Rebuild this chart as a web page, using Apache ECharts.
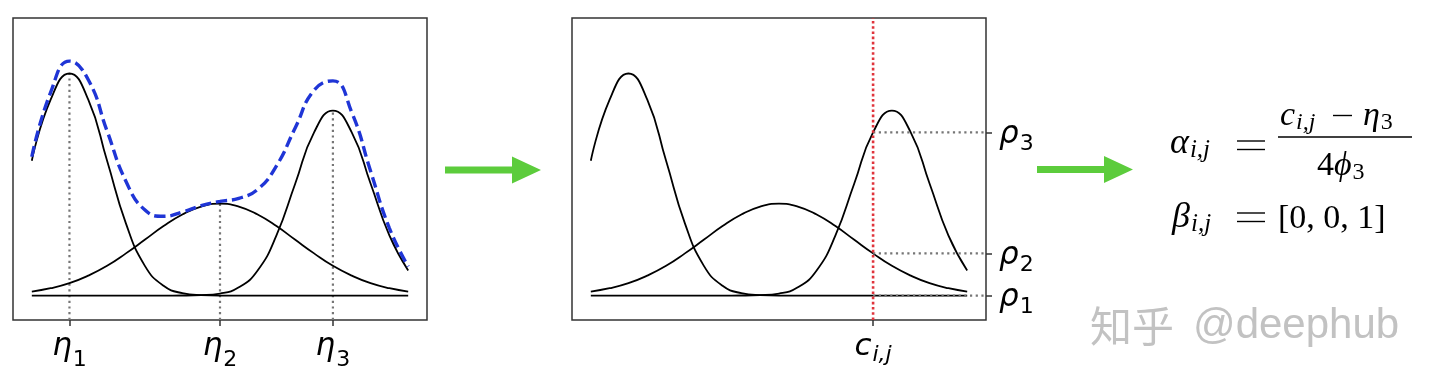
<!DOCTYPE html>
<html><head><meta charset="utf-8">
<script src="https://cdn.jsdelivr.net/npm/echarts@6/dist/echarts.min.js"></script>
<style>html,body{margin:0;padding:0;background:#fff}#c{width:1440px;height:391px}</style>
</head><body><div id="c"></div>
<script>
// ---- data ----
const xSamples = [0,0.5,1,1.5,2,2.5,3,3.5,4,4.5,5,5.5,6,6.5,7,7.5,8,8.5,9,9.5,10];
const curve1 = [0.607,0.882,1.000,0.882,0.607,0.325,0.135,0.044,0.011,0.002,0,0,0,0,0,0,0,0,0,0,0];
const curve2 = [0.018,0.033,0.056,0.090,0.134,0.190,0.251,0.313,0.365,0.401,0.414,0.401,0.365,0.313,0.251,0.190,0.134,0.090,0.056,0.033,0.018];
const curve3 = [0,0,0,0,0,0,0,0,0.0003,0.002,0.009,0.037,0.113,0.271,0.505,0.735,0.833,0.735,0.505,0.271,0.113];
const mixture = [0.625,0.915,1.056,0.972,0.741,0.515,0.386,0.357,0.376,0.405,0.424,0.438,0.478,0.584,0.756,0.925,0.967,0.825,0.561,0.304,0.131];
const etaPositions = [1, 5, 8];
const etaPeaks = [1.0, 0.414, 0.833];
const etaSubs = ['1', '2', '3'];
const cPositions = [7.5];
const rhoValues = [0, 0.19, 0.735];
const rhoSubs = ['1', '2', '3'];
const xRange = [-0.5, 10.5];
const yRange = [-0.11, 1.25];

// ---- styling ----
const BLACK = '#000';
const BLUE = '#1f35d6';
const GRAY = '#767676';
const RED = '#e0343c';
const GREEN = '#5ccc3c';

const rich = {
  m: {fontFamily:'DejaVu Sans', fontStyle:'italic', fontSize:31, color:'#000', verticalAlign:'top'},
  s: {fontFamily:'DejaVu Sans', fontSize:22, color:'#000', verticalAlign:'top', padding:[18,0,0,1]},
  r: {fontFamily:'DejaVu Sans', fontSize:22, color:'#000', verticalAlign:'top', padding:[14,0,0,1]},
  si: {fontFamily:'DejaVu Sans', fontStyle:'italic', fontSize:22, color:'#000', verticalAlign:'top', padding:[13,0,0,1]}
};

const pairs = ys => xSamples.map((x, i) => [x, ys[i]]);
function curveSeries(g) {
  return [curve1, curve2, curve3].map(c => ({
    type:'line', xAxisIndex:g, yAxisIndex:g, data:pairs(c), smooth:true, symbol:'none', silent:true,
    lineStyle:{color:BLACK, width:1.8}, z:3
  }));
}
function seg(g, p, q, color, width, dash, z) {
  return {type:'line', xAxisIndex:g, yAxisIndex:g, data:[p, q], symbol:'none', silent:true,
    lineStyle:{color, width, type:dash}, z};
}

const series = [];
// panel 1
etaPositions.forEach((x, i) => series.push(seg(0, [x, yRange[0]], [x, etaPeaks[i]], GRAY, 2.2, [2.2, 3.5], 2)));
series.push(...curveSeries(0));
series.push({type:'line', xAxisIndex:0, yAxisIndex:0, data:pairs(mixture), smooth:true, symbol:'none', silent:true,
  lineStyle:{color:BLUE, width:3.4, type:[11, 5]}, z:4});
// panel 2
series.push(...curveSeries(1));
rhoValues.forEach(r => series.push(seg(1, [cPositions[0], r], [xRange[1], r], GRAY, 2.2, [2.2, 3.5], 4)));
series.push(seg(1, [cPositions[0], yRange[0]], [cPositions[0], yRange[1]], RED, 2.6, [2.6, 2.6], 5));

const hidden = {show:false};
const noLine = {show:false, onZero:false};
function xAxis(g, vals, fmt) {
  return {type:'value', gridIndex:g, min:xRange[0], max:xRange[1], splitLine:hidden, axisLine:noLine,
    axisTick:{show:true, customValues:vals, length:6, lineStyle:{color:'#333', width:1.5}},
    axisLabel:{show:true, customValues:vals, margin:11, formatter:fmt, rich}};
}
const option = {
  animation:false,
  backgroundColor:'#fff',
  grid:[
    {left:13, top:18, width:414, height:302, show:true, borderColor:'#333', borderWidth:1.5, backgroundColor:'transparent'},
    {left:572, top:18, width:414, height:302, show:true, borderColor:'#333', borderWidth:1.5, backgroundColor:'transparent'}
  ],
  xAxis:[
    xAxis(0, etaPositions, v => `{m|η}{s|${etaSubs[etaPositions.indexOf(v)]}}`),
    xAxis(1, cPositions, v => '{m|c}{si|i,j}')
  ],
  yAxis:[
    {type:'value', gridIndex:0, min:yRange[0], max:yRange[1], show:false, axisLine:noLine},
    {type:'value', gridIndex:1, min:yRange[0], max:yRange[1], position:'right', splitLine:hidden, axisLine:noLine,
      axisTick:{show:true, customValues:rhoValues, length:6, lineStyle:{color:'#333', width:1.5}},
      axisLabel:{show:true, customValues:rhoValues, margin:13, padding:[10,0,0,0],
        formatter:v => `{m|ρ}{r|${rhoSubs[rhoValues.indexOf(v)]}}`, rich}}
  ],
  series
};

// ---- decorations: arrows, formula, watermark ----
const cv = document.createElement('canvas').getContext('2d');
function fontStr(size, italic, fam) { return (italic ? 'italic ' : '') + size + 'px "' + fam + '"'; }
function width(t, size, italic, fam) { cv.font = fontStr(size, italic, fam || SERIF); return cv.measureText(t).width; }
function midOff(size, italic, fam) { cv.font = fontStr(size, italic, fam); cv.textBaseline = 'middle'; const m = cv.measureText('x'); cv.textBaseline = 'alphabetic'; return m.actualBoundingBoxDescent; }
const SERIF = 'Liberation Serif';
function txt(x, base, t, size, italic, fam, color) {
  fam = fam || SERIF;
  return {type:'text', x, y: base - midOff(size, italic, fam), silent:true,
    style:{text:t, font:fontStr(size, italic, fam), fill:color || '#000', align:'left', verticalAlign:'middle'}};
}
// glyph followed by a subscript
function withSub(x, base, main, sub, F, subItalic) {
  const w = width(main, F, true);
  return [txt(x, base, main, F, true), txt(x + w + 1, base + 4, sub, Math.round(F * 0.7), subItalic)];
}
function hline(x1, x2, y, w) {
  return {type:'line', silent:true, shape:{x1, y1:y, x2, y2:y}, style:{stroke:'#000', lineWidth:w || 1.4}};
}
function arrow(x0, yc) {
  return {type:'polygon', silent:true, shape:{points:[[x0,yc-3.5],[x0+67,yc-3.5],[x0+67,yc-13.5],[x0+96,yc],[x0+67,yc+13.5],[x0+67,yc+3.5],[x0,yc+3.5]]},
    style:{fill:GREEN}};
}
const F = 34;
const graphics = [
  arrow(445, 170), arrow(1037, 169.5),
  ...withSub(1170, 153, 'α', 'i,j', 36, true),
  hline(1237, 1265, 141), hline(1237, 1265, 149.5),
  ...withSub(1280, 125, 'c', 'i,j', F, true),
  hline(1333, 1352, 115.5),
  ...withSub(1363, 125, 'η', '3', F, false),
  hline(1278, 1412, 137),
  txt(1317, 175, '4', F, false),
  ...withSub(1317 + width('4', F, false), 175, 'ϕ', '3', F, false),
  ...withSub(1172, 227, 'β', 'i,j', 36, true),
  hline(1237, 1265, 213), hline(1237, 1265, 221.5),
  txt(1278, 228, '[0, 0, 1]', F, false),
  {type:'text', x:1090, y:326, silent:true, style:{text:'知乎', font:'42px "Noto Sans CJK SC"', fill:'#c2c2c2', verticalAlign:'middle',
     textShadowColor:'#8a8a8a', textShadowOffsetX:1.5, textShadowOffsetY:1.5, textShadowBlur:0}},
  {type:'text', x:1193, y:326, silent:true, style:{text:'@deephub', font:'42px "Liberation Sans"', fill:'#c2c2c2', verticalAlign:'middle',
     textShadowColor:'#8a8a8a', textShadowOffsetX:1.5, textShadowOffsetY:1.5, textShadowBlur:0}}
];
option.graphic = graphics;

const chart = echarts.init(document.getElementById('c'), null, {renderer:'canvas'});
chart.setOption(option);
</script>
</body></html>
